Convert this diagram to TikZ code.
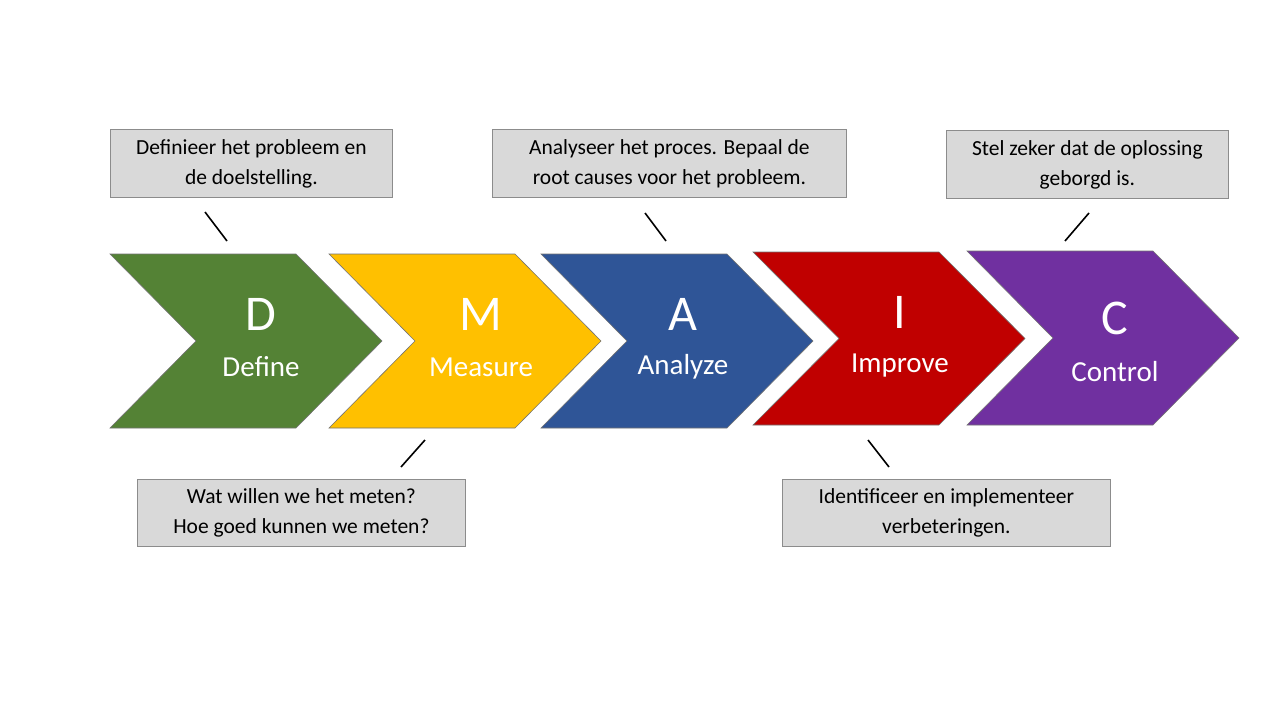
\documentclass[tikz,border=0pt]{standalone}
\usepackage{fontspec}
\setmainfont{Carlito}
\definecolor{cD}{HTML}{548235}
\definecolor{cM}{HTML}{FFC000}
\definecolor{cA}{HTML}{2F5597}
\definecolor{cI}{HTML}{C00000}
\definecolor{cC}{HTML}{7030A0}
\definecolor{boxg}{HTML}{D9D9D9}
\begin{document}
\begin{tikzpicture}[x=1pt,y=-1pt,
  chev/.style={draw=black!55,line width=0.6pt},
  letter/.style={text=white,font=\fontsize{50}{56}\selectfont},
  word/.style={text=white,font=\fontsize{29}{33}\selectfont},
  note/.style={fill=boxg,draw=black!45,line width=0.8pt,align=center,anchor=north west,inner sep=0pt,font=\fontsize{21.5}{30}\selectfont},
  tick/.style={line width=1.6pt}]
\useasboundingbox[fill=white] (0,0) rectangle (1280,720);
\newcommand{\mychev}[4]{%
  \fill[#4,chev] (#1,#2) -- ++(186,0) -- ++(86,#3) -- ++(-86,#3) -- ++(-186,0) -- ++(86,-#3) -- cycle;}
\mychev{110}{254}{87}{cD}
\mychev{329}{254}{87}{cM}
\mychev{541}{254}{87}{cA}
\mychev{753}{252}{86.5}{cI}
\mychev{967}{251}{87}{cC}
\node[letter] (lD) at (261,314) {D}; \node[word] (wD) at (261,367) {Define};
\node[letter] (lM) at (481,314) {M}; \node[word] (wM) at (481,367) {Measure};
\node[letter] (lA) at (683,314) {A}; \node[word] (wA) at (683,367) {Analyze};
\node[letter] (lI) at (900,312) {I}; \node[word] (wI) at (900,366) {Improve};
\node[letter] (lC) at (1115,318) {C}; \node[word] (wC) at (1115,372) {Control};
\node[note,minimum width=282pt,minimum height=68pt] (n1) at (110,129) {Definieer het probleem en\\de doelstelling.};
\node[note,minimum width=328pt,minimum height=67pt] (n2) at (137,479) {Wat willen we het meten?\\Hoe goed kunnen we meten?};
\node[note,minimum width=354pt,minimum height=68pt] (n3) at (492,129) {Analyseer het proces. Bepaal de\\root causes voor het probleem.};
\node[note,minimum width=328pt,minimum height=67pt] (n4) at (782,479) {Identificeer en implementeer\\verbeteringen.};
\node[note,minimum width=282pt,minimum height=68pt] (n5) at (946,130) {Stel zeker dat de oplossing\\geborgd is.};
\coordinate (a1) at (205,212); \coordinate (b1) at (227,241);
\coordinate (a2) at (425,440); \coordinate (b2) at (401,467);
\coordinate (a3) at (645,213); \coordinate (b3) at (666,241);
\coordinate (a4) at (868,440); \coordinate (b4) at (889,467);
\coordinate (a5) at (1089,213); \coordinate (b5) at (1065,241);
\foreach \i in {1,...,5}{\draw[tick] (a\i) -- (b\i);}
\end{tikzpicture}
\end{document}
